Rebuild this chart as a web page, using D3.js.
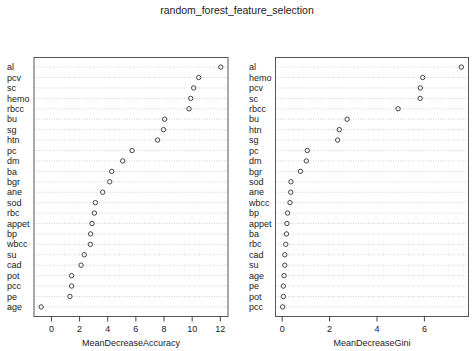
<!DOCTYPE html>
<html>
<head>
<meta charset="utf-8">
<script src="https://cdn.jsdelivr.net/npm/d3@7"></script>
<style>
  body { margin: 0; background: #fff; }
  svg text { font-family: "Liberation Sans", Arial, sans-serif; fill: #222; }
</style>
</head>
<body>
<svg id="chart" width="474" height="351"></svg>
<script>
// importance values, top row first
var accFeatures = ["al","pcv","sc","hemo","rbcc","bu","sg","htn","pc","dm","ba","bgr","ane","sod","rbc","appet","bp","wbcc","su","cad","pot","pcc","pe","age"];
var accValues = [12.07,10.50,10.14,9.93,9.81,8.08,8.00,7.58,5.77,5.10,4.32,4.18,3.68,3.16,3.09,2.92,2.82,2.80,2.37,2.14,1.47,1.47,1.35,-0.69];
var accTicks = [0,2,4,6,8,10,12];

var giniFeatures = ["al","hemo","pcv","sc","rbcc","bu","htn","sg","pc","dm","bgr","sod","ane","wbcc","bp","appet","ba","rbc","cad","su","age","pe","pot","pcc"];
var giniValues = [7.58,5.95,5.85,5.84,4.91,2.76,2.43,2.36,1.08,1.04,0.79,0.39,0.38,0.35,0.25,0.22,0.20,0.17,0.13,0.13,0.10,0.07,0.07,0.04];
var giniTicks = [0,2,4,6];

var svg = d3.select("#chart");

svg.append("text")
  .attr("x", 237).attr("y", 14)
  .attr("text-anchor", "middle")
  .style("font-size", "10.5px")
  .text("random_forest_feature_selection");

function drawDotPanel(features, values, ticks, title, box, labelX) {
  var g = svg.append("g");

  // R style: pad data range by 4%
  var lo = d3.min(values), hi = d3.max(values);
  var pad = (hi - lo) * 0.04;
  var x = d3.scaleLinear().domain([lo - pad, hi + pad]).range([box.left, box.right]);

  var n = features.length;
  var ypad = (n - 1) * 0.04;
  var y = d3.scaleLinear().domain([1 - ypad, n + ypad]).range([box.bottom, box.top]);
  var rowY = function(i) { return y(n - i); };

  // dotted guide lines
  g.selectAll("line.grid")
    .data(features)
    .join("line")
    .attr("class", "grid")
    .attr("x1", box.left).attr("x2", box.right)
    .attr("y1", (d, i) => rowY(i)).attr("y2", (d, i) => rowY(i))
    .attr("stroke", "#c8c8c8")
    .attr("stroke-width", 0.8)
    .attr("stroke-dasharray", "1,1.5");

  // row labels
  g.selectAll("text.lab")
    .data(features)
    .join("text")
    .attr("class", "lab")
    .attr("x", labelX)
    .attr("y", (d, i) => rowY(i))
    .attr("dy", "0.35em")
    .style("font-size", "9px")
    .text(d => d);

  // points
  g.selectAll("circle")
    .data(values)
    .join("circle")
    .attr("cx", d => x(d))
    .attr("cy", (d, i) => rowY(i))
    .attr("r", 2.2)
    .attr("fill", "none")
    .attr("stroke", "#333")
    .attr("stroke-width", 0.9);

  // frame
  g.append("rect")
    .attr("x", box.left).attr("y", box.top)
    .attr("width", box.right - box.left)
    .attr("height", box.bottom - box.top)
    .attr("fill", "none")
    .attr("stroke", "#555")
    .attr("stroke-width", 1);

  // bottom axis
  var axis = g.append("g")
    .attr("transform", "translate(0," + box.bottom + ")")
    .call(d3.axisBottom(x).tickValues(ticks).tickSize(5).tickPadding(4));
  axis.select(".domain").remove();
  axis.selectAll(".tick line").attr("stroke", "#444");
  axis.selectAll(".tick text")
    .style("font-size", "9px")
    .style("font-family", "'Liberation Sans', Arial, sans-serif")
    .attr("fill", "#222");

  g.append("text")
    .attr("x", (box.left + box.right) / 2)
    .attr("y", 346)
    .attr("text-anchor", "middle")
    .style("font-size", "9px")
    .text(title);
}

drawDotPanel(accFeatures, accValues, accTicks, "MeanDecreaseAccuracy",
  { left: 34, right: 228, top: 57.5, bottom: 316.5 }, 7);
drawDotPanel(giniFeatures, giniValues, giniTicks, "MeanDecreaseGini",
  { left: 275.5, right: 468.5, top: 57.5, bottom: 316.5 }, 249);
</script>
</body>
</html>
